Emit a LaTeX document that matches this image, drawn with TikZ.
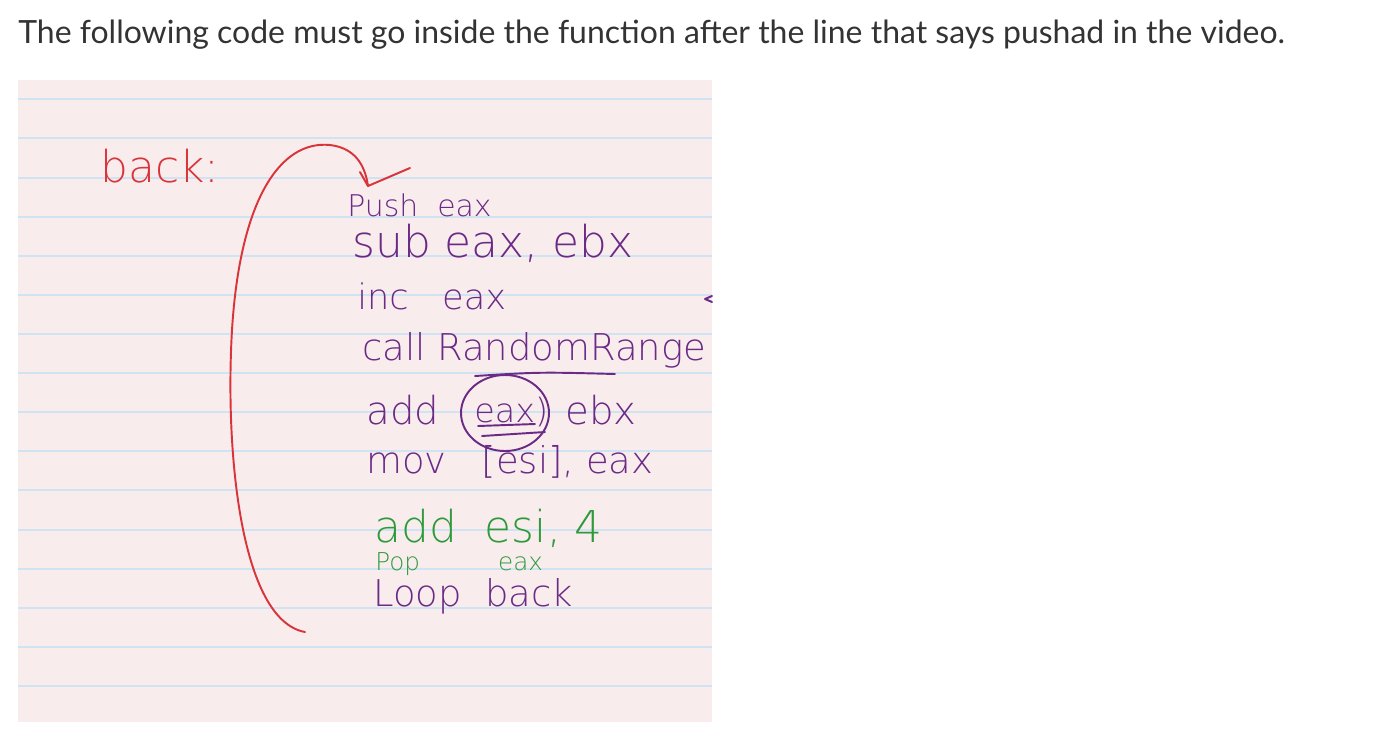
\documentclass[tikz,border=0pt]{standalone}
\usepackage{fontspec}
\setmainfont{Lato}
\newfontfamily\hand{DejaVu Sans ExtraLight}
\definecolor{paper}{HTML}{F9ECEC}
\definecolor{rule}{HTML}{CFE3F3}
\definecolor{pen}{HTML}{6A2A86}
\definecolor{gpen}{HTML}{2E9A3C}
\definecolor{rpen}{HTML}{D8343A}
\begin{document}
\begin{tikzpicture}[x=0.02cm,y=-0.02cm,
  hw/.style={anchor=west,inner sep=0pt},
  f/.style={font=\hand\fontsize{#1}{#1}\selectfont},
  ink/.style={line width=1.1pt,line cap=round,line join=round}]
\useasboundingbox (0,0) rectangle (1380,752);
\node[anchor=west,inner sep=0pt,font=\fontsize{18.2}{20}\selectfont,text=black!80] (title) at (18,35) {The following code must go inside the function after the line that says pushad in the video.};
\fill[paper] (18,80) rectangle (712,722);
\foreach \y in {99,138,178,217,256,295,334,373,412,451,490,530,569,608,647,686}
  \draw[rule,line width=0.6pt] (18,\y) -- (712,\y);
\node[hw,text=rpen,f=25] (back) at (100,166) {back:};
\node[hw,text=pen,f=17] (l1) at (347,205) {Push\ \ eax};
\node[hw,text=pen,f=25] (l2) at (352,243) {sub eax, ebx};
\node[hw,text=pen,f=20] (l3) at (357,296) {inc\ \ \ eax};
\node[hw,text=pen,f=21] (l4) at (362,350) {call RandomRange};
\node[hw,text=pen,f=22] (l5a) at (366,410) {add};
\node[hw,text=pen,f=19] (l5b) at (474,412) {eax)};
\node[hw,text=pen,f=22] (l5c) at (565,410) {ebx};
\node[hw,text=pen,f=21] (l6) at (366,462) {mov\ \ \ [esi], eax};
\node[hw,text=gpen,f=25] (l7) at (374,528) {add\ \ esi, 4};
\node[hw,text=gpen,f=14] (l8) at (375,564) {Pop\ \ \ \ \ \ \ \ \ \ eax};
\node[hw,text=pen,f=21] (l9) at (373,596) {Loop\ \ back};
\draw[pen,ink] (505,413) ellipse (44 and 38);
\draw[pen,ink] (475,376) .. controls (540,372) .. (615,374);
\draw[pen,ink] (478,426) -- (535,424);
\draw[pen,ink] (482,436) -- (545,432);
\draw[pen,ink] (712,296) -- (705,299) -- (712,302);
\coordinate (s) at (305,632);
\coordinate (t) at (368,186);
\draw[rpen,ink] (s) .. controls (240,620) and (225,450) .. (232,330)
  .. controls (240,200) and (280,140) .. (330,145)
  .. controls (355,148) and (365,165) .. (t);
\draw[rpen,ink] (360,172) -- (t) -- (410,168);
\end{tikzpicture}
\end{document}
